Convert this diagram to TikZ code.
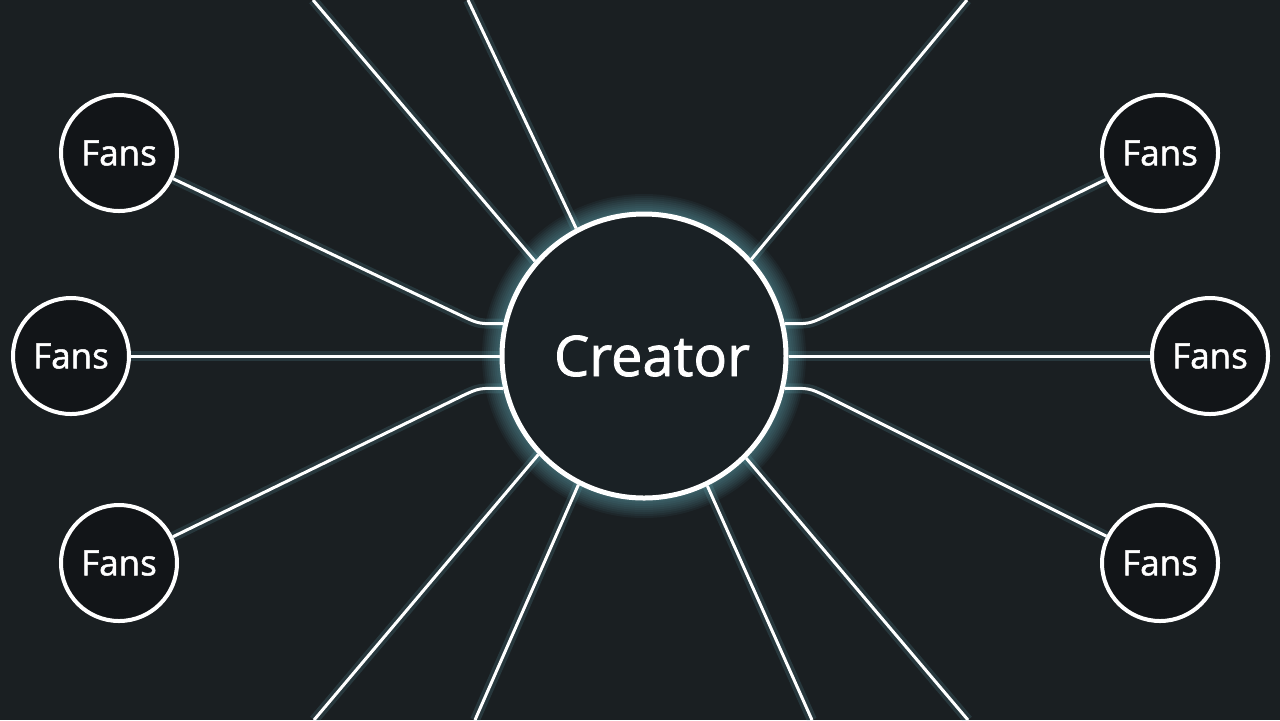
\documentclass[tikz,border=0pt]{standalone}
\usepackage{fontspec}
\setmainfont{Open Sans}[FakeBold=1.4]
\definecolor{bg}{HTML}{1A1F22}
\definecolor{hubfill}{HTML}{1A2125}
\definecolor{fanfill}{HTML}{121518}
\definecolor{glowc}{HTML}{7ACFDD}
\tikzset{
	fans/.style={draw=white, line width=2pt, circle, fill=fanfill, minimum size=58pt, inner sep=0pt, text=white, font=\fontsize{17.5}{20}\selectfont},
	hub/.style={draw=white, line width=2.5pt, circle, fill=hubfill, minimum size=142pt, inner sep=0pt, text=white, font=\fontsize{28}{32}\selectfont},
	link/.style={draw=white, line width=1.5pt, preaction={draw=glowc, line width=5pt, opacity=0.14}},
}
\begin{document}
\begin{tikzpicture}[x=0.5pt,y=-0.5pt]
	\fill[bg] (0,0) rectangle (1280,720);
	\useasboundingbox (0,0) rectangle (1280,720);
	\coordinate (c) at (644,356);
	\foreach \w in {1,...,10}
		\draw[glowc, opacity=0.05, line width=\w*2pt] (c) circle (71pt);
	\node [hub] (creator) at (c) {\hspace{8pt}Creator};
	\node [fans] (fansTL) at (119,153) {Fans};
	\node [fans] (fansML) at (71,356) {Fans};
	\node [fans] (fansBL) at (119,563) {Fans};
	\node [fans] (fansTR) at (1160,153) {Fans};
	\node [fans] (fansMR) at (1210,356) {Fans};
	\node [fans] (fansBR) at (1160,563) {Fans};
	\coordinate (t1) at (313,0);
	\coordinate (t2) at (468,0);
	\coordinate (t3) at (967,0);
	\coordinate (b1) at (314,720);
	\coordinate (b2) at (475,720);
	\coordinate (b3) at (812,720);
	\coordinate (b4) at (968,720);
	\draw[link] (fansTL) -- (462,316) .. controls (479,324) .. (creator.167);
	\draw[link] (fansML) -- (creator);
	\draw[link] (fansBL) -- (462,396) .. controls (479,388) .. (creator.193);
	\draw[link] (fansTR) -- (826,316) .. controls (809,324) .. (creator.13);
	\draw[link] (fansMR) -- (creator);
	\draw[link] (fansBR) -- (826,396) .. controls (809,388) .. (creator.-13);
	\foreach \a/\e in {139.5/t1, 118.7/t2, 42.7/t3, 223/b1, 243.4/b2, 296.6/b3, 315.8/b4}
		\draw[link] (creator.\a) -- (\e);
\end{tikzpicture}
\end{document}
